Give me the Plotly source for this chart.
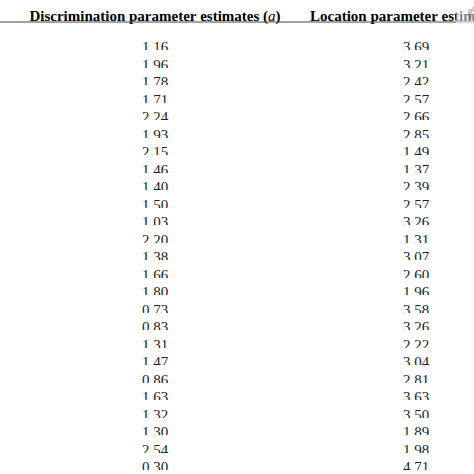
import plotly.graph_objects as go

disc = ["1.16", "1.96", "1.78", "1.71", "2.24", "1.93", "2.15", "1.46", "1.40", "1.50",
        "1.03", "2.20", "1.38", "1.66", "1.80", "0.73", "0.83", "1.31", "1.47", "0.86",
        "1.63", "1.32", "1.30", "2.54", "0.30", "0.94"]
loc = ["3.69", "3.21", "2.42", "2.57", "2.66", "2.85", "1.49", "1.37", "2.39", "2.57",
       "3.26", "1.31", "3.07", "2.60", "1.96", "3.58", "3.26", "2.22", "3.04", "2.81",
       "3.63", "3.50", "1.89", "1.98", "4.71", "2.83"]
headers = ["<b>Discrimination&nbsp;parameter&nbsp;estimates&nbsp;(</b><i>a</i><b>)</b>",
           "<b>Location&nbsp;parameter&nbsp;estimates&nbsp;(</b><i>b</i><b>)</b>"]

fig = go.Figure(go.Table(
    columnwidth=[310, 212],
    header=dict(values=headers, height=21, align="center",
                fill_color="white", line=dict(color="white"),
                font=dict(family="Liberation Serif", size=15, color="black")),
    cells=dict(values=[disc, loc], height=17.5, align="center",
               fill_color="white", line=dict(color="white"),
               font=dict(family="Liberation Serif", size=15, color="#222"))
))

# line under the header
fig.add_shape(type="line", xref="paper", yref="paper", x0=0, x1=1,
              y0=1 - 22 / 474, y1=1 - 22 / 474, line=dict(color="#444", width=1))

fig.update_layout(width=522, height=474, margin=dict(l=0, r=0, t=0, b=0),
                  paper_bgcolor="white")

fig.write_html("out.html",
               post_script="document.body.style.overflow='hidden';document.body.style.margin='0';")
